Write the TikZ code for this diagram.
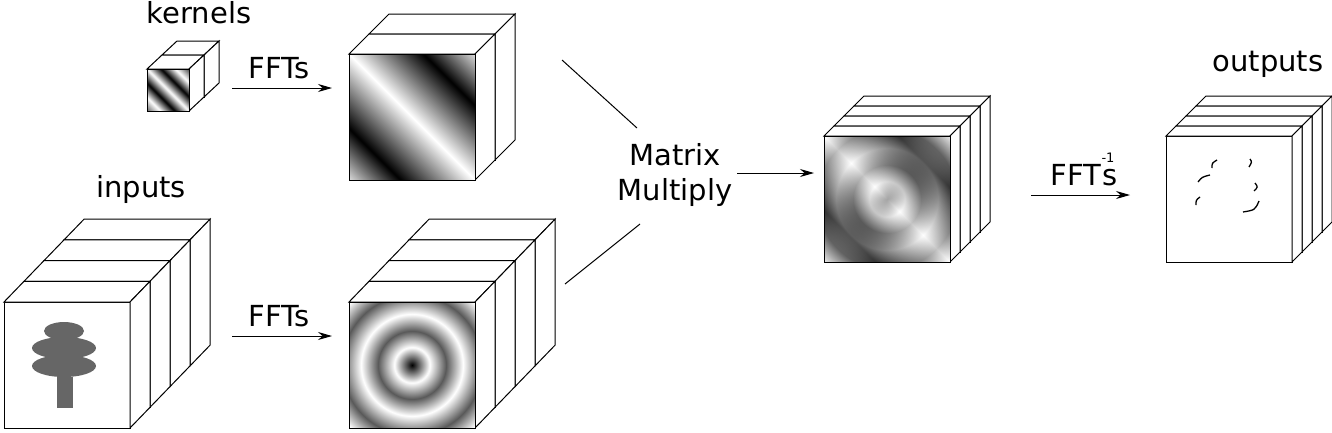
\documentclass[tikz,border=0pt]{standalone}
\usepackage{fontspec}
\setmainfont{DejaVu Sans}
\usetikzlibrary{arrows.meta}
\pgfdeclarehorizontalshading{bigstripes}{100bp}{color(0bp)=(white); color(14.6bp)=(white!85!black); color(29bp)=(black); color(50bp)=(white); color(71bp)=(black); color(85.4bp)=(white!85!black); color(100bp)=(white)}
\pgfdeclarehorizontalshading{smallstripes}{100bp}{color(0bp)=(black); color(14.6bp)=(black!60); color(26bp)=(white); color(38bp)=(black); color(50bp)=(white); color(62bp)=(black); color(74bp)=(white); color(85.4bp)=(black!70); color(100bp)=(black)}
\pgfdeclareradialshading{rings}{\pgfpoint{0bp}{0bp}}{color(0bp)=(black); color(7bp)=(white); color(13.5bp)=(black!65); color(20.2bp)=(white); color(27.8bp)=(black!65); color(34.9bp)=(white); color(42bp)=(black!65); color(50bp)=(black!65)}
\newcommand\layerstack[6]{% x y size n dx dy
  \foreach \k in {#4,...,0}{
    \pgfmathsetmacro\lx{#1+\k*#5}\pgfmathsetmacro\ly{#2+\k*#6}
    \draw[face] (\lx,\ly) rectangle ++(#3,#3);
    \draw[face] (\lx,\ly) -- ++(#5,#6) -- ++(#3,0) -- ++(-#5,-#6) -- cycle;
    \draw[face] (\lx+#3,\ly) -- ++(#5,#6) -- ++(0,#3) -- ++(-#5,-#6) -- cycle;
  }}
\tikzset{face/.style={draw=black,fill=white,line width=1pt},
  lbl/.style={font=\fontsize{29}{35}\selectfont,inner sep=0pt},
  arr/.style={-{Stealth[length=14pt,width=8pt]},line width=1pt},
  plain/.style={line width=1pt}}
\begin{document}
\begin{tikzpicture}[x=1pt,y=-1pt]
\useasboundingbox (0,0) rectangle (1332,432);
% kernels small
\layerstack{147}{69}{42}{1}{15}{-14}
\shade[shading=smallstripes,shading angle=45] (147,69) rectangle ++(42,42);
\draw[plain] (147,69) rectangle ++(42,42);
\node[lbl] (kl) at (199,13) {kernels};
% big kernel
\layerstack{349}{54}{126}{1}{20}{-20}
\shade[shading=bigstripes,shading angle=45] (349,54) rectangle ++(126,126);
\draw[plain] (349,54) rectangle ++(126,126);
% inputs
\layerstack{4}{302}{126}{3}{20}{-20.7}
\node[lbl] (il) at (141,189) {inputs};
\fill[black!60] (57,377) rectangle (73,408);
\fill[black!60] (64,366) ellipse (32 and 11);
\fill[black!60] (64,348) ellipse (32 and 11);
\fill[black!60] (64,331) ellipse (20 and 9);
% input FFT
\layerstack{349}{302}{126}{3}{20}{-20.7}
\shade[shading=rings] (349,302) rectangle ++(126,126);
\draw[plain] (349,302) rectangle ++(126,126);
% FFT arrows
\coordinate (f1a) at (232,88); \coordinate (f1b) at (332,88);
\coordinate (f2a) at (232,336); \coordinate (f2b) at (332,336);
\draw[arr] (f1a) -- (f1b);
\draw[arr] (f2a) -- (f2b);
\node[lbl] (t1) at (279,68) {FFTs};
\node[lbl] (t2) at (279,316) {FFTs};
% matrix multiply
\node[lbl,align=center] (mm) at (675,175) {Matrix\\Multiply};
\coordinate (l1a) at (562,60); \coordinate (l1b) at (637,128);
\coordinate (l2a) at (565,284); \coordinate (l2b) at (640,224);
\draw[plain] (l1a) -- (l1b);
\draw[plain] (l2a) -- (l2b);
\coordinate (ma) at (737,173); \coordinate (mb) at (814,173);
\draw[arr] (ma) -- (mb);
% product stack
\layerstack{824}{136}{126}{3}{10}{-10}
\shade[shading=bigstripes,shading angle=45] (824,136) rectangle ++(126,126);
\begin{scope}[opacity=0.35]
\shade[shading=rings] (824,136) rectangle ++(126,126);
\end{scope}
\draw[plain] (824,136) rectangle ++(126,126);
% inverse FFT arrow
\coordinate (ia) at (1031,195); \coordinate (ib) at (1130,195);
\draw[arr] (ia) -- (ib);
\node[lbl] (it) at (1084,175) {FFT\kern1pt s};
\node[font=\fontsize{13}{13}\selectfont,inner sep=0pt] (sup) at (1108,158) {-1};
% outputs
\layerstack{1166}{136}{126}{3}{10}{-10}
\node[lbl] (ol) at (1268,64) {outputs};
\begin{scope}[line width=1.3pt]
\draw (1217,160) .. controls (1212,163) .. (1212,168);
\draw (1198,182) .. controls (1202,177) .. (1210,175);
\draw (1196,205) .. controls (1196,200) .. (1200,197);
\draw (1250,159) .. controls (1252,162) .. (1249,167);
\draw (1255,183) .. controls (1258,187) .. (1254,191);
\draw (1243,212) .. controls (1255,210) .. (1259,201);
\end{scope}
\end{tikzpicture}
\end{document}
